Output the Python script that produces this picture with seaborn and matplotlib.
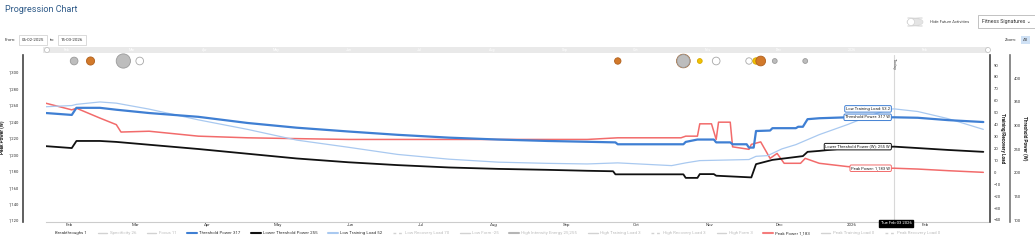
import matplotlib
matplotlib.use('Agg')
import matplotlib.pyplot as plt
import matplotlib.dates as mdates
import matplotlib.patches as mpatches
import matplotlib.ticker as mticker
import matplotlib.transforms as mtrans
from matplotlib.lines import Line2D
import pandas as pd
import seaborn as sns

# values, one date list per series (the series step at different days)
peak_dates = ['2025-02-06', '2025-02-17', '2025-02-19', '2025-03-01', '2025-03-08', '2025-03-10',
              '2025-03-22', '2025-04-12', '2025-05-03', '2025-05-24', '2025-06-15', '2025-09-25',
              '2025-10-08', '2025-11-04', '2025-11-06', '2025-11-11', '2025-11-12', '2025-11-17',
              '2025-11-19', '2025-11-20', '2025-11-25', '2025-11-26', '2025-12-03', '2025-12-04',
              '2025-12-08', '2025-12-12', '2025-12-15', '2025-12-18', '2025-12-25', '2025-12-27',
              '2026-01-02', '2026-01-14', '2026-01-23', '2026-02-03', '2026-02-13', '2026-02-26',
              '2026-03-13']
peak_power = [1262, 1254, 1256, 1244, 1236, 1227,
              1228, 1222, 1220, 1219, 1218, 1218,
              1220, 1220, 1222, 1222, 1237, 1237,
              1218, 1239, 1239, 1209, 1206, 1212,
              1215, 1195, 1201, 1189, 1189, 1195,
              1189, 1185, 1183, 1183, 1182, 1180,
              1178]

thr_dates = ['2025-02-06', '2025-02-17', '2025-02-19', '2025-03-01', '2025-03-08', '2025-03-22',
             '2025-04-12', '2025-05-03', '2025-05-24', '2025-06-15', '2025-07-06', '2025-07-28',
             '2025-08-18', '2025-09-08', '2025-10-07', '2025-10-08', '2025-11-05', '2025-11-06',
             '2025-11-11', '2025-11-18', '2025-11-19', '2025-11-25', '2025-11-26', '2025-12-02',
             '2025-12-03', '2025-12-05', '2025-12-06', '2025-12-12', '2025-12-13', '2025-12-23',
             '2025-12-24', '2025-12-26', '2025-12-28', '2026-01-02', '2026-01-14', '2026-02-03',
             '2026-02-13', '2026-02-26', '2026-03-13']
threshold_power = [326, 322, 337, 337, 333, 326,
                   318, 305, 295, 287, 280, 274,
                   270, 267, 264, 260, 260, 265,
                   270, 270, 264, 264, 260, 260,
                   253, 253, 288, 289, 294, 294,
                   297, 297, 313, 315, 317, 317,
                   316, 311, 307]

lower_dates = ['2025-02-06', '2025-02-17', '2025-02-19', '2025-03-01', '2025-03-08', '2025-03-22',
               '2025-04-12', '2025-05-03', '2025-05-24', '2025-06-15', '2025-07-06', '2025-07-28',
               '2025-08-18', '2025-09-08', '2025-09-25', '2025-10-06', '2025-10-07', '2025-11-05',
               '2025-11-06', '2025-11-11', '2025-11-12', '2025-11-18', '2025-11-19', '2025-12-04',
               '2025-12-06', '2025-12-13', '2025-12-26', '2025-12-28', '2026-01-02', '2026-01-14',
               '2026-02-03', '2026-02-13', '2026-02-26', '2026-03-13']
lower_threshold_power = [256, 252, 267, 267, 265, 259,
                         250, 240, 230, 222, 216, 211,
                         208, 206, 204, 203, 196.5, 196.5,
                         189, 189, 197, 197, 193.6, 190,
                         218, 227, 235, 244, 246, 252,
                         255, 252, 248, 244]

load_dates = ['2025-02-06', '2025-02-17', '2025-02-19', '2025-03-01', '2025-03-08', '2025-03-22',
              '2025-04-12', '2025-05-03', '2025-05-24', '2025-06-15', '2025-07-06', '2025-07-28',
              '2025-08-18', '2025-09-08', '2025-09-25', '2025-10-08', '2025-10-31', '2025-11-06',
              '2025-11-12', '2025-12-03', '2025-12-06', '2025-12-11', '2025-12-17', '2025-12-23',
              '2026-01-02', '2026-01-14', '2026-01-23', '2026-02-01', '2026-02-03', '2026-02-13',
              '2026-02-26', '2026-03-13']
low_training_load = [55, 56, 57, 59, 58, 53,
                     44, 36, 27, 21, 15, 11,
                     8.5, 7.5, 7, 7.9, 5.6, 7.9,
                     9.8, 10.7, 13.4, 14, 19.6, 23.2,
                     31.6, 40, 47, 53, 53.2, 51,
                     45, 36]

breakthrough_dates = ['2025-02-18', '2025-02-25', '2025-03-11', '2025-03-18', '2025-10-08',
                      '2025-11-05', '2025-11-05', '2025-11-12', '2025-11-19', '2025-12-03',
                      '2025-12-06', '2025-12-08', '2025-12-14', '2025-12-27']
breakthrough_sizes = [4, 4.2, 8, 4, 3.5, 7.5, 7, 3, 4, 3.5, 3.5, 5, 3, 3]
breakthrough_kinds = ['gray', 'orange', 'gray', 'hollow', 'orange', 'orange', 'gray',
                      'yellow', 'hollow', 'hollow', 'yellow', 'orange', 'gray', 'gray']

# month names sit mid-month on this chart
month_ticks = ['2025-02-16', '2025-03-16', '2025-04-16', '2025-05-16', '2025-06-16',
               '2025-07-16', '2025-08-16', '2025-09-16', '2025-10-16', '2025-11-16',
               '2025-12-16', '2026-01-16', '2026-02-16']
month_labels = ['Feb', 'Mar', 'Apr', 'May', 'Jun', 'Jul', 'Aug', 'Sep', 'Oct', 'Nov',
                'Dec', '2026', 'Feb']

legend_labels = ['Breakthroughs 1', 'Specificity 26', 'Focus 11', 'Threshold Power 317',
                 'Lower Threshold Power 255', 'Low Training Load 52', 'Low Recovery Load 70',
                 'Low Form -25', 'High Intensity Energy 25,255', 'High Training Load 3',
                 'High Recovery Load 3', 'High Form 3', 'Peak Power 1,183',
                 'Peak Training Load 0', 'Peak Recovery Load 0']

date_from, date_to = '2025-02-06', '2026-03-15'
today = '2026-02-03'

W, H = 1035, 240
RED = '#f26b6b'
BLUE = '#3f7fd3'
LIGHT = '#a9c9f0'
BLACK = '#111111'
HIDDEN = '#d2d2d2'


def box(x0, y0, x1, y1):
    # pixel rectangle -> figure fraction [l, b, w, h]
    return [x0 / W, 1 - y1 / H, (x1 - x0) / W, (y1 - y0) / H]


def series(d, v):
    return pd.DataFrame({'date': pd.to_datetime(d), 'value': v})


def style_right(axis, outward, color='#444'):
    for s in ('left', 'top', 'bottom'):
        axis.spines[s].set_visible(False)
    axis.spines['right'].set_position(('outward', outward))
    axis.spines['right'].set_color(color)
    axis.spines['right'].set_linewidth(1.2)
    axis.tick_params(axis='y', length=0, pad=2.5, labelsize=3, labelcolor='#333')


def main():
    sns.set_style('white')
    plt.rcParams['font.family'] = ['Roboto', 'DejaVu Sans']

    bt = pd.DataFrame({'date': pd.to_datetime(breakthrough_dates),
                       'size': breakthrough_sizes, 'kind': breakthrough_kinds})
    bt['level'] = 0.5
    t0 = mdates.date2num(pd.Timestamp(today))
    xlim = (pd.Timestamp(date_from), pd.Timestamp(date_to))

    fig = plt.figure(figsize=(W / 100, H / 100), dpi=100)

    # --- main plot: peak power on the left axis
    ax = fig.add_axes(box(46, 55, 988, 222))
    sns.lineplot(data=series(peak_dates, peak_power), x='date', y='value', ax=ax,
                 color=RED, lw=1.1)
    ax.axvline(t0, color='#d8d8d8', lw=0.8, zorder=0)
    ax.set_xlim(*xlim)
    ax.set_ylim(1117.6, 1320.7)
    ax.set_yticks(range(1120, 1301, 20))
    ax.yaxis.set_major_formatter(mticker.StrMethodFormatter('{x:,.0f}'))
    ax.set_xticks(pd.to_datetime(month_ticks))
    ax.set_xticklabels(month_labels)
    ax.tick_params(axis='x', length=0, pad=0.6, labelsize=3.2, labelcolor='#333')
    ax.tick_params(axis='y', length=0, pad=3, labelsize=3, labelcolor='#333')
    ax.set_xlabel('')
    ax.set_ylabel('Peak Power (W)', fontsize=3.4, fontweight='bold', color='#222')
    ax.yaxis.set_label_coords(-0.0435, 0.51)
    for s in ('top', 'right'):
        ax.spines[s].set_visible(False)
    ax.spines['left'].set_position(('outward', 16.5))
    ax.spines['left'].set_color('#444')
    ax.spines['left'].set_linewidth(1.2)
    ax.spines['bottom'].set_color('#cccccc')
    ax.spines['bottom'].set_linewidth(0.8)

    # --- training / recovery load axis
    ax_tl = ax.twinx()
    sns.lineplot(data=series(load_dates, low_training_load), x='date', y='value', ax=ax_tl,
                 color=LIGHT, lw=0.9)
    ax_tl.set_ylim(-41.7, 98.4)
    ax_tl.set_yticks(range(-40, 91, 10))
    ax_tl.set_ylabel('Training/Recovery Load', fontsize=3.4, fontweight='bold',
                     color='#222', rotation=270)
    ax_tl.yaxis.set_label_coords(1.018, 0.5)
    style_right(ax_tl, 1.4)

    # --- threshold power axis
    ax_tp = ax.twinx()
    sns.lineplot(data=series(lower_dates, lower_threshold_power), x='date', y='value',
                 ax=ax_tp, color=BLACK, lw=1.3)
    sns.lineplot(data=series(thr_dates, threshold_power), x='date', y='value', ax=ax_tp,
                 color=BLUE, lw=1.6)
    ax_tp.set_ylim(95.8, 448.6)
    ax_tp.set_yticks(range(100, 401, 50))
    ax_tp.set_ylabel('Threshold Power (W)', fontsize=3.4, fontweight='bold',
                     color='#222', rotation=270)
    ax_tp.yaxis.set_label_coords(1.0425, 0.5)
    style_right(ax_tp, 15.8, color='#777')
    for a in (ax_tl, ax_tp):
        a.set_xlim(*xlim)
        a.set_xlabel('')

    # tooltip callouts at the crosshair
    tips = [(ax_tl, 53.2, 'Low Training Load: 53.2', BLUE),
            (ax_tp, 317, 'Threshold Power: 317 W', BLUE),
            (ax_tp, 255, 'Lower Threshold Power (W): 255 W', BLACK),
            (ax, 1183, 'Peak Power: 1,183 W', RED)]
    for a, val, txt, col in tips:
        a.annotate(txt, xy=(t0, val), xytext=(-3, 0), textcoords='offset points',
                   ha='right', va='center', fontsize=3, color='#222', zorder=10,
                   bbox=dict(boxstyle='round,pad=0.3', fc='white', ec=col, lw=0.7))
    trans = mtrans.blended_transform_factory(ax.transData, ax.transAxes)
    ax.annotate('Tue Feb 03 2026', xy=(t0, 0), xycoords=trans, xytext=(1.5, -1),
                textcoords='offset points', ha='center', va='center', fontsize=3,
                color='white', zorder=20, annotation_clip=False,
                bbox=dict(boxstyle='square,pad=0.4', fc='black', ec='black'))
    ax.text(t0, 0.985, 'Today', transform=trans, rotation=270, ha='center', va='top',
            fontsize=3.2, color='#555')

    # --- breakthroughs strip
    ax_b = fig.add_axes(box(46, 52, 988, 70))
    styles = {'hollow': ('white', '#a8a8a8'), 'yellow': ('#f2c200', '#d6a700'),
              'orange': ('#d2792a', '#b0601c'), 'gray': ('#bdbdbd', '#9a9a9a')}
    for kind, (fc, ec) in styles.items():
        sub = bt[bt['kind'] == kind]
        sns.scatterplot(data=sub, x='date', y='level', size='size', sizes=(12, 105),
                        size_norm=(3, 8), color=fc, edgecolor=ec, linewidth=0.6,
                        legend=False, ax=ax_b)
    ax_b.set_xlim(*xlim)
    ax_b.set_ylim(0, 1)
    ax_b.axis('off')

    # --- navigator strip
    ax_n = fig.add_axes(box(43, 47, 988, 53))
    ax_n.set_facecolor('#e9e9e9')
    ax_n.set_xlim(*xlim)
    ax_n.set_ylim(0, 1)
    for d, lab in zip(pd.to_datetime(month_ticks), month_labels):
        ax_n.text(mdates.date2num(d), 0.5, lab, fontsize=2.6,
                  color='white', ha='center', va='center')
    ax_n.set_xticks([])
    ax_n.set_yticks([])
    for s in ax_n.spines.values():
        s.set_visible(False)
    for px in (47, 988):
        fig.patches.append(mpatches.Ellipse((px / W, 1 - 50 / H), 5 / W, 5 / H,
                                            transform=fig.transFigure,
                                            fc='white', ec='#bbbbbb', lw=0.5))

    # --- legend
    handles = [Line2D([], [], linestyle='none'),
               Line2D([], [], color=HIDDEN, lw=1),
               Line2D([], [], color=HIDDEN, lw=1),
               Line2D([], [], color=BLUE, lw=1.5),
               Line2D([], [], color=BLACK, lw=1.5),
               Line2D([], [], color=LIGHT, lw=1.5),
               Line2D([], [], color=HIDDEN, lw=1, ls=(0, (2, 2))),
               Line2D([], [], color=HIDDEN, lw=1),
               Line2D([], [], color='#b5b5b5', lw=1.5),
               Line2D([], [], color=HIDDEN, lw=1),
               Line2D([], [], color=HIDDEN, lw=1, ls=(0, (2, 2))),
               Line2D([], [], color=HIDDEN, lw=1),
               Line2D([], [], color='#f47c7c', lw=1.5),
               Line2D([], [], color=HIDDEN, lw=1),
               Line2D([], [], color=HIDDEN, lw=1, ls=(0, (2, 2)))]
    shown = {0, 3, 4, 5, 12}
    colors = ['#333' if i in shown else '#bdbdbd' for i in range(len(legend_labels))]
    fig.legend(handles, legend_labels, loc='upper left', bbox_to_anchor=(40 / W, 1 - 228 / H),
               ncol=len(legend_labels), fontsize=3.2, frameon=False, handlelength=2.2,
               handletextpad=0.5, columnspacing=2.4, labelcolor=colors, borderpad=0.2)

    # --- header controls
    fig.text(5 / W, 1 - 10 / H, 'Progression Chart', fontsize=6.5, color='#2e5a88',
             va='center')
    fig.text(5 / W, 1 - 40 / H, 'From:', fontsize=3.2, color='#333', va='center')
    fig.text(33 / W, 1 - 40 / H, '06-02-2025', fontsize=3.2, color='#333', va='center',
             ha='center', bbox=dict(boxstyle='square,pad=0.6', fc='white', ec='#cccccc', lw=0.5))
    fig.text(50 / W, 1 - 40 / H, 'to:', fontsize=3.2, color='#333', va='center')
    fig.text(72 / W, 1 - 40 / H, '15-03-2026', fontsize=3.2, color='#333', va='center',
             ha='center', bbox=dict(boxstyle='square,pad=0.6', fc='white', ec='#cccccc', lw=0.5))
    fig.patches.append(mpatches.FancyBboxPatch((907 / W, 1 - 26 / H), 16 / W, 8 / H,
                                               boxstyle='round,pad=0,rounding_size=0.015',
                                               transform=fig.transFigure, fc='#e4e4e4',
                                               ec='#d6d6d6', lw=0.4))
    fig.patches.append(mpatches.Ellipse((911 / W, 1 - 22 / H), 7 / W, 7 / H,
                                        transform=fig.transFigure,
                                        fc='white', ec='#cccccc', lw=0.4))
    fig.text(930 / W, 1 - 22 / H, 'Hide Future Activities', fontsize=3, color='#444',
             va='center')
    fig.text(982 / W, 1 - 21.5 / H, 'Fitness Signatures \u2304', fontsize=3.8, color='#333',
             va='center', bbox=dict(boxstyle='square,pad=0.7', fc='white', ec='#aaaaaa', lw=0.5))
    fig.text(1005 / W, 1 - 40 / H, 'Zoom:', fontsize=3, color='#333', va='center')
    fig.text(1023 / W, 1 - 40 / H, 'All', fontsize=3.2, color='#333', va='center',
             bbox=dict(boxstyle='square,pad=0.4', fc='#cfe1f5', ec='none'))

    fig.savefig('out.png', dpi=100)


if __name__ == '__main__':
    main()
